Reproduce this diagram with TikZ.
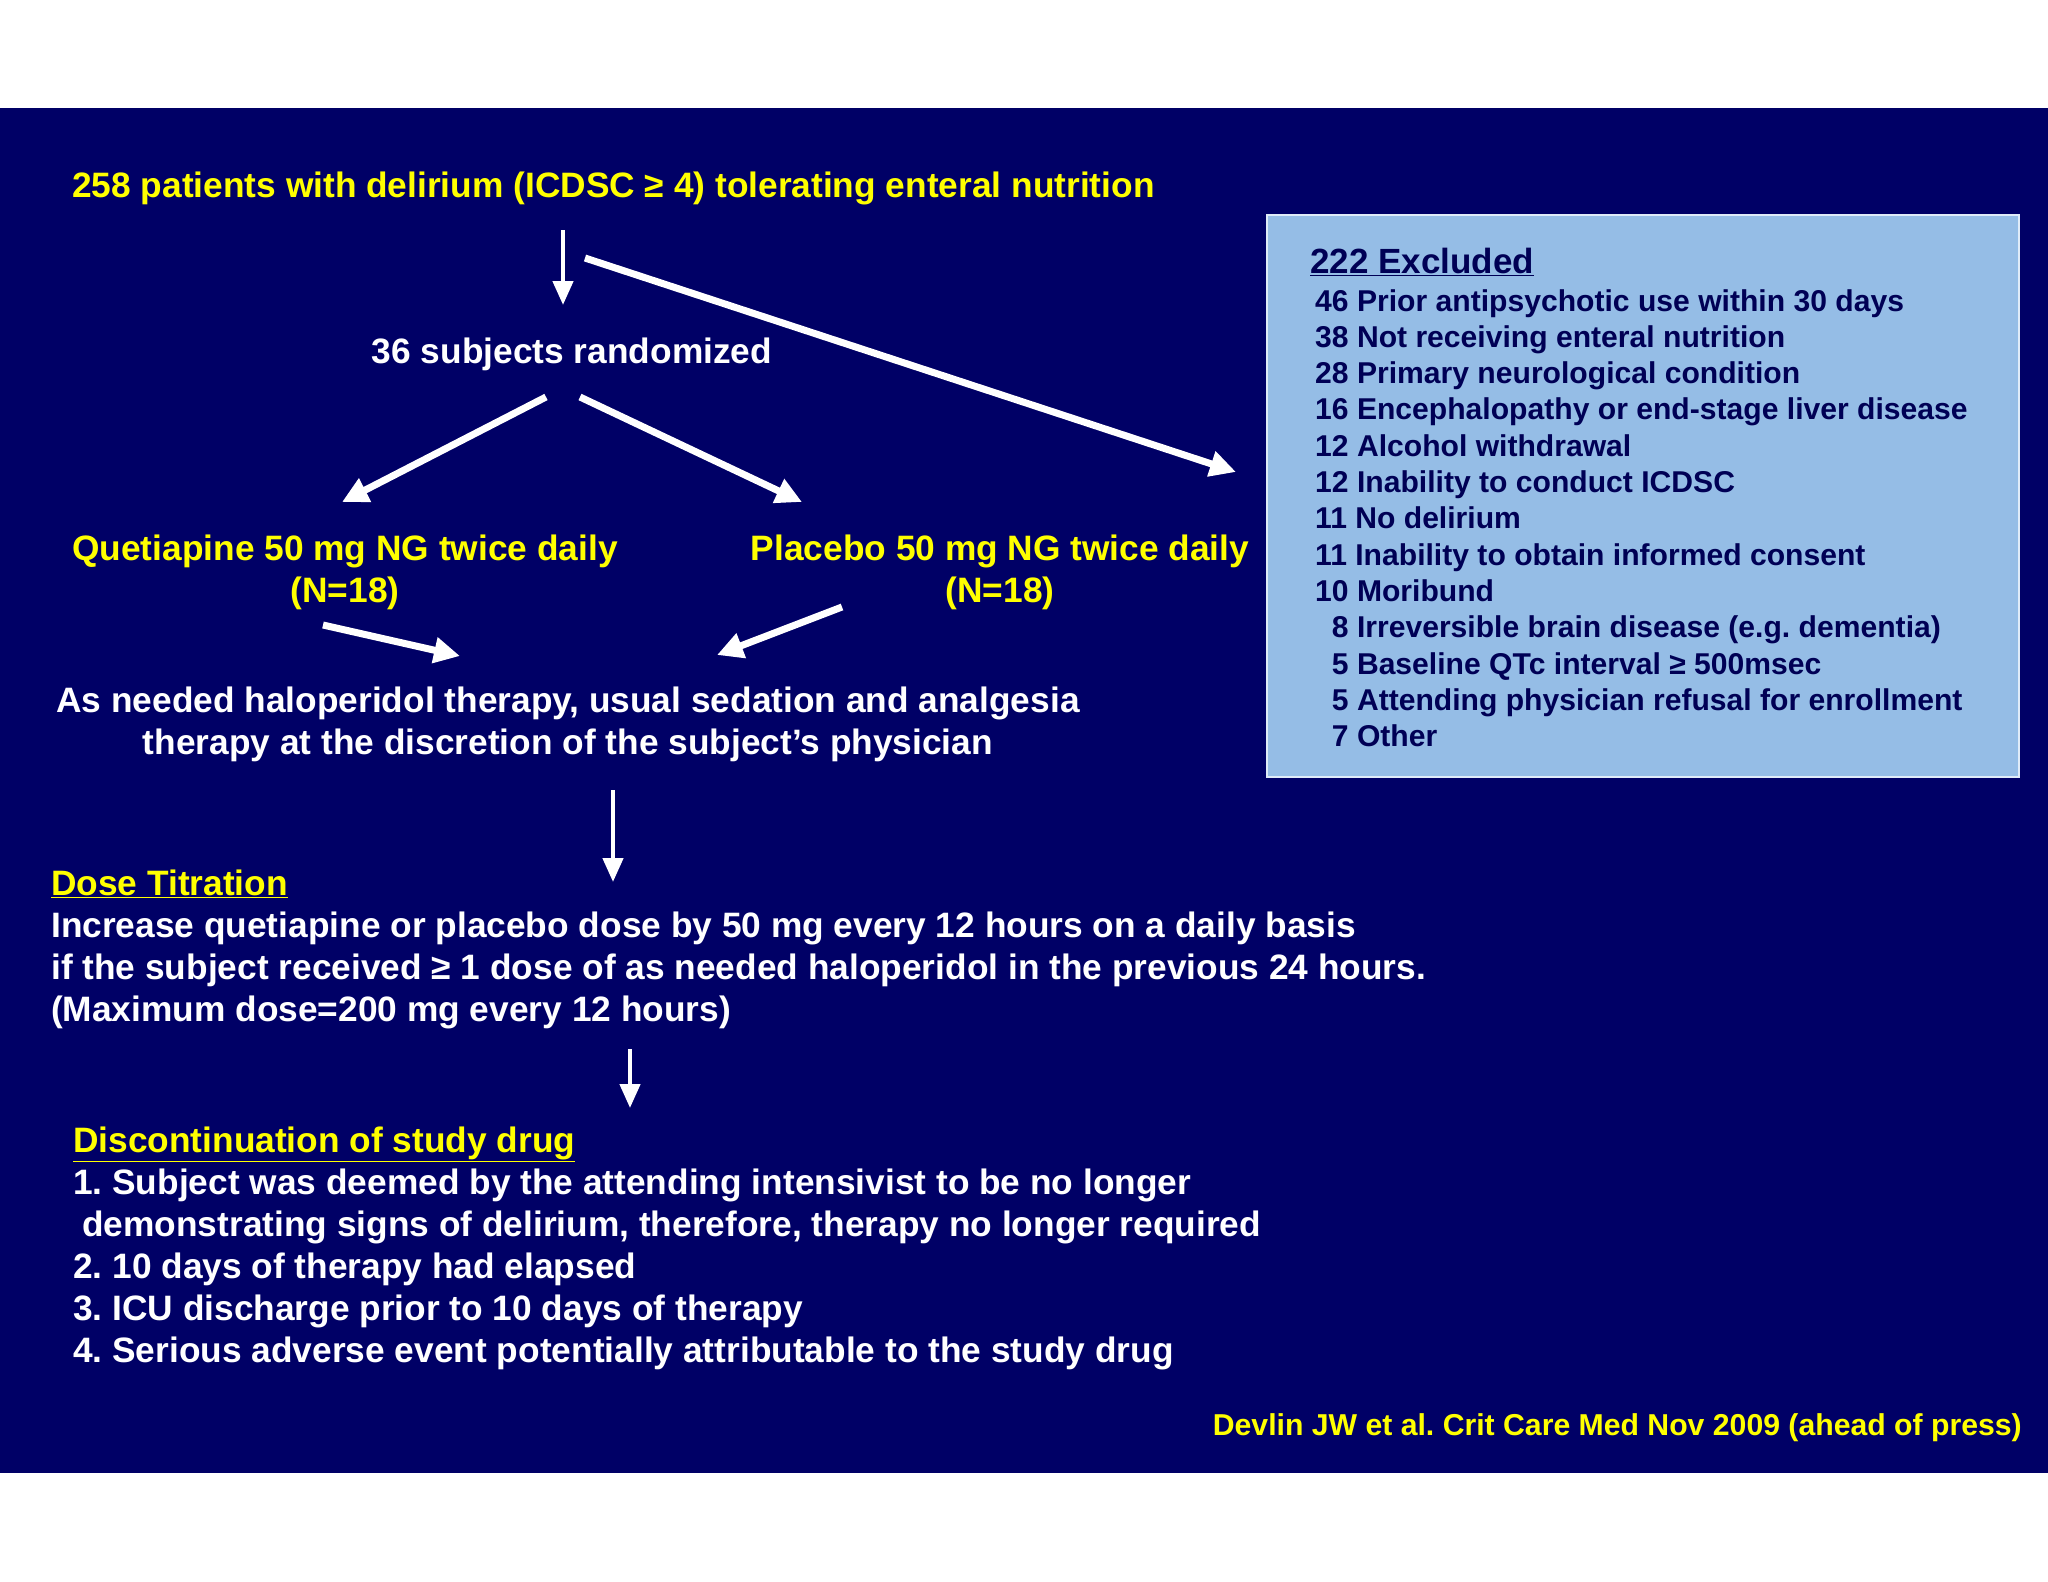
\documentclass[tikz,border=0pt]{standalone}
\usepackage{fontspec}
\setmainfont{Liberation Sans}
\usetikzlibrary{arrows.meta}
\definecolor{navy}{RGB}{0,0,102}
\definecolor{boxblue}{RGB}{149,189,230}
\definecolor{boxtext}{RGB}{0,0,85}
\definecolor{ylw}{RGB}{255,255,0}
\frenchspacing
\tikzset{
  txt/.style={inner sep=0pt, font=\bfseries\fontsize{35.3}{42}\selectfont},
  yel/.style={txt, text=ylw},
  wht/.style={txt, text=white},
  boxtxt/.style={inner sep=0pt, text=boxtext, font=\bfseries\fontsize{30.1}{36.3}\selectfont},
  thickarrow/.style={draw=white, line width=7pt, -{Triangle[length=26pt,width=25pt]}},
  thinarrow/.style={draw=white, line width=4.5pt, -{Triangle[length=24pt,width=20pt]}},
}
\begin{document}
\begin{tikzpicture}[x=1pt,y=-1pt]
\useasboundingbox (0,0) rectangle (2048,1582);
\fill[white] (0,0) rectangle (2048,1582);
\fill[navy] (0,108) rectangle (2048,1473);

% excluded box
\node[draw=white!70!boxblue, fill=boxblue, line width=2pt, anchor=north west,
      minimum width=752pt, minimum height=562pt, inner sep=0pt] (exclbox) at (1266,214) {};
\node[boxtxt, anchor=base west, font=\bfseries\fontsize{35}{40}\selectfont] (exclhead) at (1310,273) {\underline{222 Excluded}};
\node[boxtxt, anchor=base west] (excllist) at (1315,311) {\begin{tabular}[t]{@{}l@{}}
46 Prior antipsychotic use within 30 days\\
38 Not receiving enteral nutrition\\
28 Primary neurological condition\\
16 Encephalopathy or end-stage liver disease\\
12 Alcohol withdrawal\\
12 Inability to conduct ICDSC\\
11 No delirium\\
11 Inability to obtain informed consent\\
10 Moribund\\
\phantom{1}8 Irreversible brain disease (e.g. dementia)\\
\phantom{1}5 Baseline QTc interval ≥ 500msec\\
\phantom{1}5 Attending physician refusal for enrollment\\
\phantom{1}7 Other
\end{tabular}};

% main texts
\node[yel, anchor=base west] (start) at (72,197) {258 patients with delirium (ICDSC ≥ 4) tolerating enteral nutrition};
\node[wht, anchor=base] (rand) at (572,363) {36 subjects randomized};
\node[yel, anchor=base] (quet) at (345,560) {\begin{tabular}[t]{@{}c@{}}Quetiapine 50 mg NG twice daily\\(N=18)\end{tabular}};
\node[yel, anchor=base] (plac) at (1000,560) {\begin{tabular}[t]{@{}c@{}}Placebo 50 mg NG twice daily\\(N=18)\end{tabular}};
\node[wht, anchor=base] (halo) at (568,712) {\begin{tabular}[t]{@{}c@{}}As needed haloperidol therapy, usual sedation and analgesia\\therapy at the discretion of the subject’s physician\end{tabular}};
\node[wht, anchor=base west] (dose) at (51,895) {\begin{tabular}[t]{@{}l@{}}
\textcolor{ylw}{\underline{Dose Titration}}\\
Increase quetiapine or placebo dose by 50 mg every 12 hours on a daily basis\\
if the subject received ≥ 1 dose of as needed haloperidol in the previous 24 hours.\\
(Maximum dose=200 mg every 12 hours)
\end{tabular}};
\node[wht, anchor=base west] (disc) at (73,1152) {\begin{tabular}[t]{@{}l@{}}
\textcolor{ylw}{\underline{Discontinuation of study drug}}\\
1. Subject was deemed by the attending intensivist to be no longer\\
\hspace*{9pt}demonstrating signs of delirium, therefore, therapy no longer required\\
2. 10 days of therapy had elapsed\\
3. ICU discharge prior to 10 days of therapy\\
4. Serious adverse event potentially attributable to the study drug
\end{tabular}};
\node[yel, anchor=base east, font=\bfseries\fontsize{30.2}{36}\selectfont] (cite) at (2022,1435) {Devlin JW et al. Crit Care Med Nov 2009 (ahead of press)};

% arrow end points
\coordinate (a1s) at (563,230);  \coordinate (a1e) at (563,305);
\coordinate (a2s) at (585,258);  \coordinate (a2e) at (1236,472);
\coordinate (a3s) at (546,397);  \coordinate (a3e) at (342,502);
\coordinate (a4s) at (580,397);  \coordinate (a4e) at (802,502);
\coordinate (a5s) at (323,625);  \coordinate (a5e) at (460,656);
\coordinate (a6s) at (842,607);  \coordinate (a6e) at (717,655);
\coordinate (a7s) at (613,790);  \coordinate (a7e) at (613,882);
\coordinate (a8s) at (630,1049); \coordinate (a8e) at (630,1108);

\draw[thinarrow] (a1s) -- (a1e);
\draw[thickarrow] (a2s) -- (a2e);
\draw[thickarrow] (a3s) -- (a3e);
\draw[thickarrow] (a4s) -- (a4e);
\draw[thickarrow] (a5s) -- (a5e);
\draw[thickarrow] (a6s) -- (a6e);
\draw[thinarrow] (a7s) -- (a7e);
\draw[thinarrow] (a8s) -- (a8e);
\end{tikzpicture}
\end{document}
